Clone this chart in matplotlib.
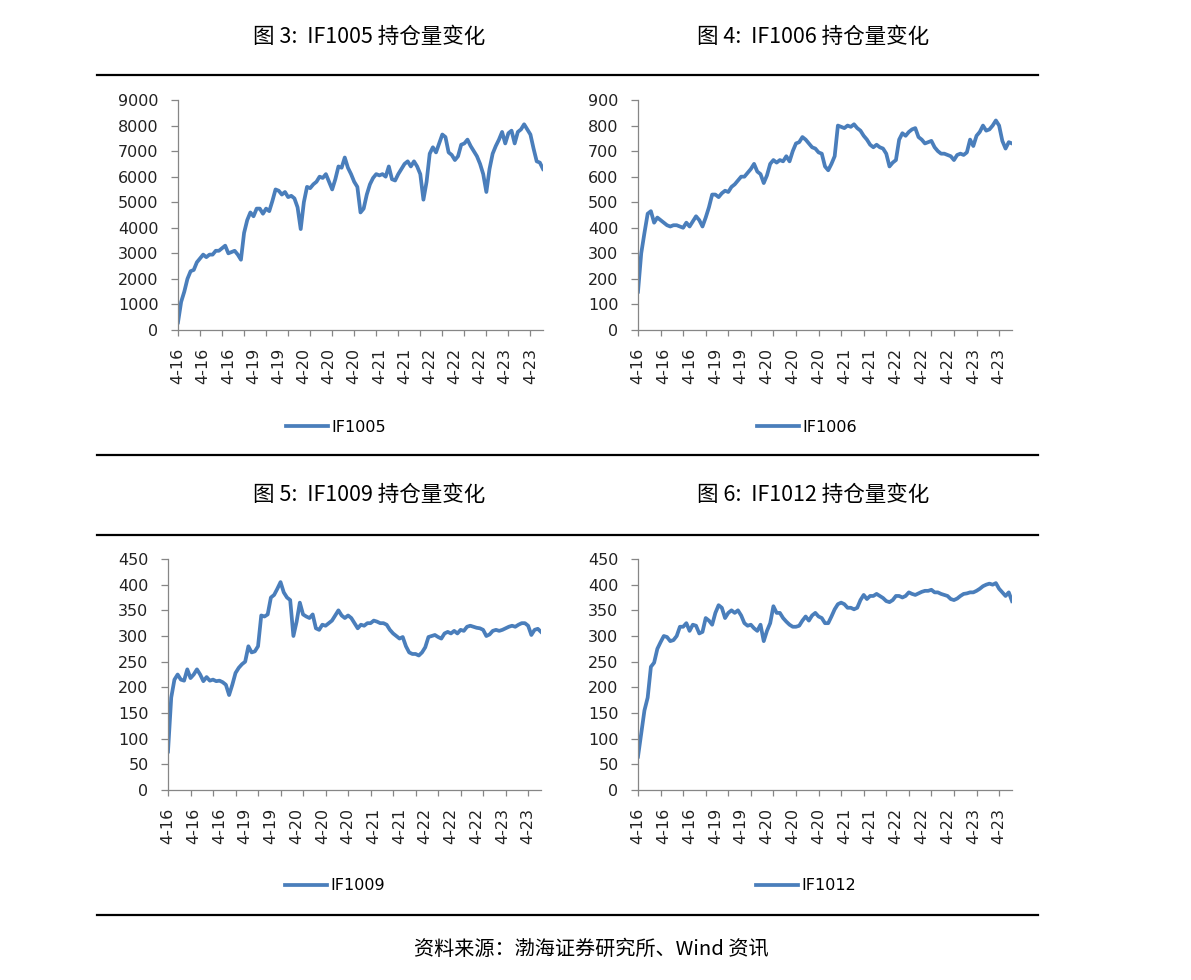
import matplotlib
matplotlib.use('Agg')
import matplotlib.pyplot as plt
from matplotlib.lines import Line2D
import numpy as np

# x axis category labels (shown every 8th point, tick marks every 7th point)
x_labels = ['4-16', '4-16', '4-16', '4-19', '4-19', '4-20', '4-20', '4-20',
            '4-21', '4-21', '4-22', '4-22', '4-22', '4-23', '4-23']

if1005 = [300, 1100, 1500, 2000, 2300, 2350, 2650, 2800, 2950, 2850,
          2950, 2950, 3100, 3100, 3200, 3300, 3000, 3050, 3100, 2950,
          2750, 3800, 4300, 4600, 4450, 4750, 4750, 4550, 4750, 4650,
          5050, 5500, 5450, 5300, 5400, 5200, 5250, 5150, 4800, 3950,
          5000, 5600, 5550, 5700, 5800, 6000, 5950, 6100, 5800, 5500,
          5900, 6400, 6350, 6750, 6350, 6100, 5800, 5600, 4600, 4750,
          5300, 5700, 5950, 6100, 6050, 6100, 6000, 6400, 5900, 5850,
          6100, 6300, 6500, 6600, 6400, 6600, 6400, 6100, 5100, 5800,
          6900, 7150, 6950, 7300, 7650, 7550, 6950, 6850, 6650, 6800,
          7250, 7300, 7450, 7200, 7000, 6800, 6500, 6100, 5400, 6300,
          6900, 7200, 7450, 7750, 7300, 7700, 7800, 7300, 7750, 7850,
          8050, 7850, 7650, 7100, 6600, 6550, 6300]

if1006 = [150, 300, 380, 455, 465, 420, 440, 430, 420, 410,
          405, 410, 410, 405, 400, 420, 405, 425, 445, 430,
          405, 440, 480, 530, 530, 520, 535, 545, 540, 560,
          570, 585, 600, 600, 615, 630, 650, 620, 610, 575,
          605, 650, 665, 655, 665, 660, 680, 660, 700, 730,
          735, 755, 745, 730, 715, 710, 695, 690, 640, 625,
          650, 680, 800, 795, 790, 800, 795, 805, 790, 780,
          760, 745, 725, 715, 725, 715, 710, 690, 640, 655,
          665, 745, 770, 760, 775, 785, 790, 755, 745, 730,
          735, 740, 715, 700, 690, 690, 685, 680, 665, 685,
          690, 685, 695, 745, 720, 760, 775, 800, 780, 785,
          800, 820, 800, 740, 710, 735, 730]

if1009 = [75, 180, 215, 225, 215, 213, 235, 218, 225, 235,
          225, 212, 220, 213, 215, 212, 213, 210, 205, 185,
          205, 228, 238, 245, 250, 280, 268, 270, 280, 340,
          338, 342, 375, 380, 392, 405, 385, 375, 370, 300,
          328, 365, 342, 338, 335, 342, 315, 312, 322, 320,
          325, 330, 340, 350, 340, 335, 340, 335, 325, 315,
          322, 320, 325, 325, 330, 328, 325, 325, 322, 312,
          305, 300, 295, 298, 280, 268, 265, 265, 262, 268,
          278, 298, 300, 302, 298, 295, 305, 308, 305, 310,
          305, 312, 310, 318, 320, 318, 316, 315, 312, 300,
          303, 310, 312, 310, 312, 315, 318, 320, 318, 322,
          325, 325, 320, 302, 312, 314, 308]

if1012 = [65, 110, 155, 180, 240, 248, 275, 288, 300, 298,
          290, 292, 300, 318, 318, 325, 310, 322, 320, 305,
          308, 335, 330, 322, 345, 360, 355, 335, 345, 350,
          345, 350, 340, 325, 320, 322, 315, 310, 322, 290,
          310, 325, 358, 345, 345, 335, 328, 322, 318, 318,
          320, 330, 338, 330, 340, 345, 338, 335, 325, 325,
          338, 352, 362, 365, 362, 355, 355, 352, 355, 370,
          380, 372, 378, 378, 382, 378, 374, 368, 366, 370,
          378, 378, 375, 378, 385, 382, 380, 383, 386, 388,
          388, 390, 385, 385, 382, 380, 378, 372, 370, 373,
          378, 382, 383, 385, 385, 388, 392, 397, 400, 402,
          400, 403, 392, 385, 378, 385, 368]

W, H = 1191, 980
line_color = '#4a7ebb'
axis_color = '#868686'
cjk = ['Noto Sans CJK SC', 'DejaVu Sans']


def fig_rect(l, t, r, b):
    return [l / W, 1 - b / H, (r - l) / W, (b - t) / H]


# series, name, title, ymax, ystep, axes box (px), legend centre, title centre
panels = [
    (if1005, 'IF1005', '图 3:  IF1005 持仓量变化', 9000, 1000, (178, 100, 543, 330), (336, 427), (369, 37)),
    (if1006, 'IF1006', '图 4:  IF1006 持仓量变化', 900, 100, (638, 100, 1012, 330), (807, 427), (813, 37)),
    (if1009, 'IF1009', '图 5:  IF1009 持仓量变化', 450, 50, (168, 559, 541, 790), (335, 886), (369, 495)),
    (if1012, 'IF1012', '图 6:  IF1012 持仓量变化', 450, 50, (638, 559, 1012, 790), (806, 886), (813, 495)),
]

fig = plt.figure(figsize=(W / 100, H / 100), dpi=100)

for vals, name, title, ymax, ystep, box, leg_pos, title_pos in panels:
    ax = fig.add_axes(fig_rect(*box))
    x = np.arange(len(vals))
    ax.plot(x, vals, color=line_color, lw=2.7, label=name, solid_joinstyle='round')
    ax.set_xlim(0, len(vals) - 1)
    ax.set_ylim(0, ymax)
    ax.set_yticks(np.arange(0, ymax + 1, ystep))

    # tick marks every 7 points, labels every 8 points (as in the Excel axis)
    ax.xaxis.remove_overlapping_locs = False
    ax.set_xticks(np.arange(0, len(vals), 7))
    ax.set_xticklabels([])
    ax.set_xticks(np.arange(0, len(vals), 8)[:len(x_labels)], minor=True)
    ax.set_xticklabels(x_labels, minor=True, rotation=90)

    for s in ['top', 'right']:
        ax.spines[s].set_visible(False)
    for s in ['left', 'bottom']:
        ax.spines[s].set_color(axis_color)
        ax.spines[s].set_linewidth(0.9)
    ax.tick_params(axis='x', which='major', length=4, color=axis_color, width=0.9)
    ax.tick_params(axis='x', which='minor', length=0, pad=13, labelsize=11.5, labelcolor='#222222')
    ax.tick_params(axis='y', length=5, pad=9, color=axis_color, width=0.9,
                   labelsize=11.5, labelcolor='#222222')

    ax.legend(loc='center', bbox_to_anchor=(leg_pos[0] / W, 1 - leg_pos[1] / H),
              bbox_transform=fig.transFigure, frameon=False, fontsize=11.5,
              handlelength=2.6, handletextpad=0.2)

    fig.text(title_pos[0] / W, 1 - title_pos[1] / H, title, ha='center', va='center',
             fontsize=15.5, family=cjk)

# horizontal rules
for y in [75, 455, 535, 915]:
    fig.add_artist(Line2D([97 / W, 1038 / W], [1 - y / H, 1 - y / H], color='black', lw=1.6))

fig.text(591 / W, 1 - 949 / H, '资料来源：渤海证券研究所、Wind 资讯', ha='center', va='center',
         fontsize=14.5, family=cjk)

plt.savefig('out.png', dpi=100)
plt.close()
